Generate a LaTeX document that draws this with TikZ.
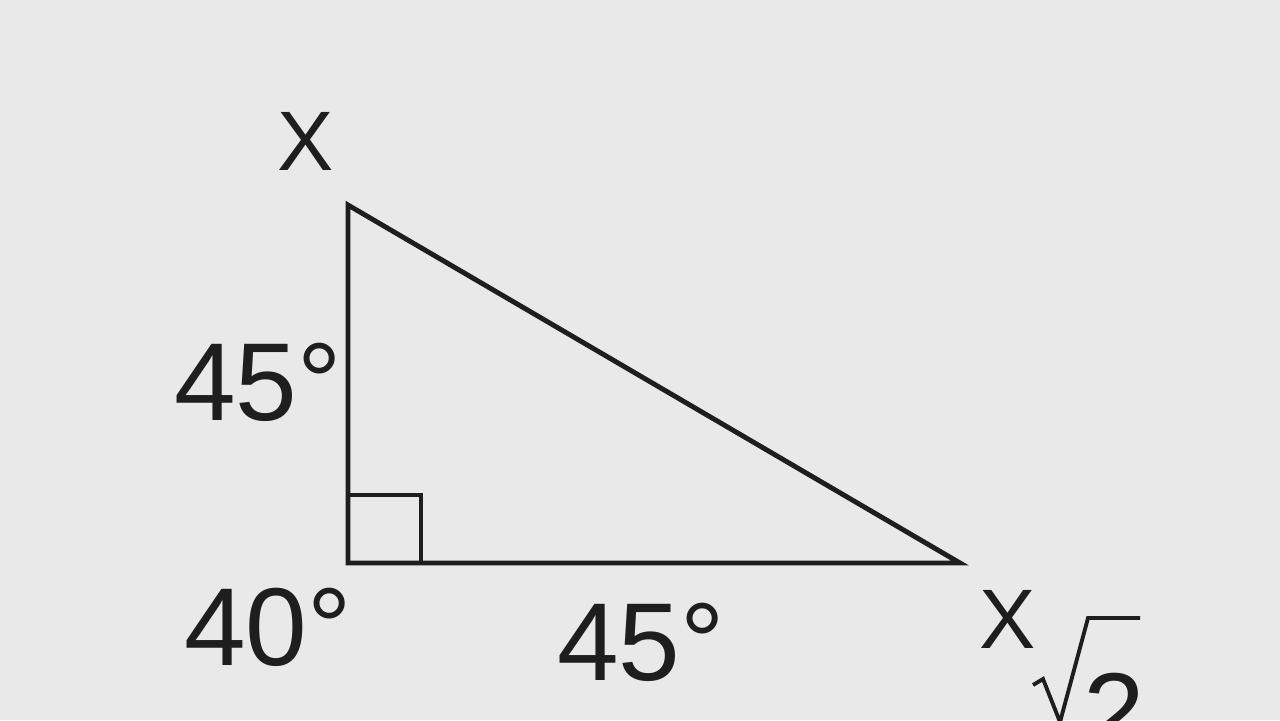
\documentclass[tikz,border=0pt]{standalone}
\usepackage{fontspec}
\setmainfont{Liberation Sans}
\definecolor{bg}{RGB}{233,233,233}
\definecolor{ink}{RGB}{30,30,30}
\tikzset{ang/.style = {inner sep=0pt, anchor=base, text=ink, font=\fontsize{31.5}{36}\selectfont},
           sd/.style = {inner sep=0pt, anchor=base, text=ink, font=\fontsize{24}{28}\selectfont},
           ln/.style = {draw=ink, line width=1.4pt, line join=miter},
           sq/.style = {draw=ink, line width=1.1pt}}
\begin{document}
\begin{tikzpicture}[x=0.01cm, y=-0.01cm]
    \useasboundingbox[fill=bg] (0,0) rectangle (1280,720);
    \coordinate (A) at (348,205); \coordinate (B) at (348,563); \coordinate (C) at (960,563);
    \draw[ln] (A) -- (B) -- (C) -- cycle;
    \draw[sq] (348,495) -- (421,495) -- (421,563);
    \node[sd]  (xa) at (306,170) {X};
    \node[sd]  (xc) at (1008,648) {X};
    \node[ang] (aa) at (258,420) {45°};
    \node[ang] (ab) at (268,665) {40°};
    \node[ang] (bc) at (641,680) {45°};
    \node[ang] (tw) at (1114,750) {2};
    \draw[ink, line width=1.1pt] (1033,685) -- (1043,679) -- (1060,722) -- (1088,618) -- (1140,618);
  \end{tikzpicture}
\end{document}
